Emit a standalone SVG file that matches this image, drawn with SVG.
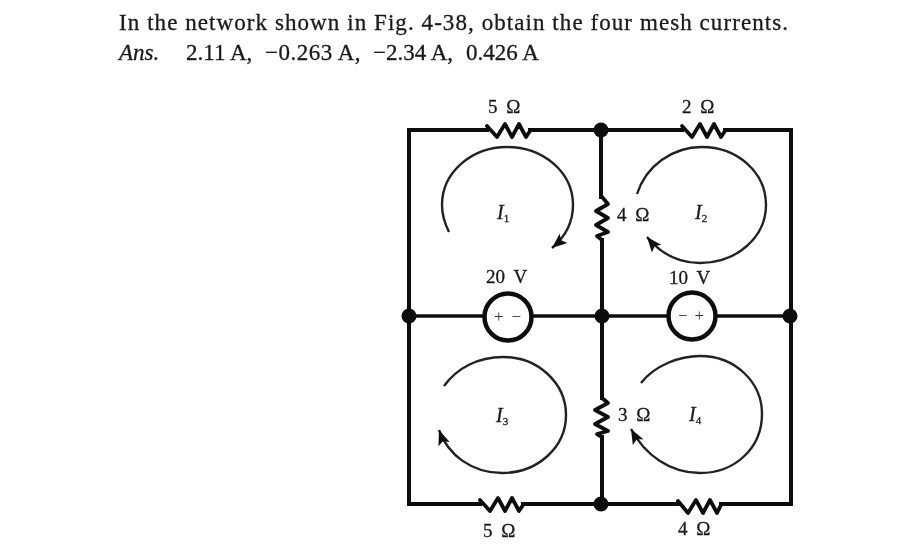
<svg xmlns="http://www.w3.org/2000/svg" width="898" height="556" viewBox="0 0 898 556">
<style>
text{font-family:"Liberation Serif","Times New Roman",serif;fill:#1a1a1a;stroke:#1a1a1a;stroke-width:.3}
.head{font-size:23px}
.lab{font-size:19px;word-spacing:4px}
.cur{font-size:20px;font-style:italic}
.sub{font-size:11px;font-style:normal}
.sgn{font-size:17px;fill:#333;stroke:none}
.wire{fill:none;stroke:#111;stroke-width:4;stroke-linecap:square;stroke-linejoin:miter}
.thin{stroke-width:3.4}
.res{fill:none;stroke:#111;stroke-width:3.8;stroke-linejoin:round;stroke-linecap:round}
.loop{fill:none;stroke:#222;stroke-width:2.4;marker-end:url(#arr)}
.dot{fill:#111}
.src{fill:#fff;stroke:#111;stroke-width:4.5}
</style>
<defs>
<filter id="soft" x="-2%" y="-2%" width="104%" height="104%"><feGaussianBlur stdDeviation="0.65"/></filter>
<marker id="arr" markerUnits="userSpaceOnUse" markerWidth="20" markerHeight="16" refX="15" refY="7" orient="auto"><path d="M0 1 L15 7 L0 13 L3 7 Z" fill="#111"/></marker>
</defs>
<rect width="898" height="556" fill="#fff"/>
<g filter="url(#soft)">
<g id="statement">
<text class="head" x="119" y="30" textLength="669">In the network shown in Fig. 4-38, obtain the four mesh currents.</text>
<text class="head" y="59.5"><tspan x="119" font-style="italic">Ans.</tspan><tspan x="186">2.11 A,</tspan><tspan x="265" letter-spacing=".5">−0.263 A,</tspan><tspan x="373">−2.34 A,</tspan><tspan x="466">0.426 A</tspan></text>
</g>
<g id="connectors">
<path class="wire" d="M487 130H409V504H480M523 504H678M721 504H791V130H725M682 130H530"/>
<path class="wire" d="M601 130V197M602 240V398M602 437V504"/>
<path class="wire thin" d="M409 316H484M532 316H668M716 316H791"/>
</g>
<g id="r-top-left"><polyline class="res" points="487,126 497,137 505,124 512,137 519,124 526,137 530,131"/><text class="lab" x="488" y="113">5 Ω</text></g>
<g id="r-top-right"><polyline class="res" points="682,126 692,137 700,124 707,137 714,124 721,137 725,131"/><text class="lab" x="682" y="113">2 Ω</text></g>
<g id="r-mid-upper"><polyline class="res" points="602,197 608,204 596,211 608,218 596,225 608,232 597,236 602,240"/><text class="lab" x="617" y="221">4 Ω</text></g>
<g id="r-mid-lower"><polyline class="res" points="602,398 608,403 595,410 608,417 595,424 608,431 597,434 602,437"/><text class="lab" x="618" y="421">3 Ω</text></g>
<g id="r-bottom-left"><polyline class="res" points="480,500 490,511 498,498 505,511 512,498 519,511 523,505"/><text class="lab" x="483" y="537">5 Ω</text></g>
<g id="r-bottom-right"><polyline class="res" points="678,501 688,513 696,500 703,513 710,500 717,513 721,505"/><text class="lab" x="678" y="535">4 Ω</text></g>
<g id="source-20v"><circle class="src" cx="508" cy="317" r="23.5"/><text class="sgn" x="494" y="322">+</text><text class="sgn" x="511.5" y="322">−</text><text class="lab" x="486" y="283">20 V</text></g>
<g id="source-10v"><circle class="src" cx="692" cy="316" r="23.5"/><text class="sgn" x="678" y="321">−</text><text class="sgn" x="694.5" y="321">+</text><text class="lab" x="669" y="284">10 V</text></g>
<g id="mesh-1"><path class="loop" d="M449 232C444 222 442 214 442 205C442 172 472 147 507 147C543 147 573 172 573 205C573 222 565 237 552 248"/><text class="cur" x="497" y="219">I<tspan class="sub" dy="3">1</tspan></text></g>
<g id="mesh-2"><path class="loop" d="M637 194C646 166 672 147 702 147C737 147 766 172 766 205C766 237 737 263 700 263C680 263 661 254 647 237"/><text class="cur" x="695" y="219">I<tspan class="sub" dy="3">2</tspan></text></g>
<g id="mesh-3"><path class="loop" d="M444 386C457 368 478 357 503 357C538 357 566 383 566 415C566 447 538 473 502 473C472 473 448 455 439 430"/><text class="cur" x="496" y="422">I<tspan class="sub" dy="3">3</tspan></text></g>
<g id="mesh-4"><path class="loop" d="M641 383C655 365 680 356 700 356C735 356 762 382 762 414C762 448 735 473 700 473C670 473 645 455 631 429"/><text class="cur" x="689" y="421">I<tspan class="sub" dy="3">4</tspan></text></g>
<g id="junctions">
<circle class="dot" cx="601" cy="130" r="7.5"/>
<circle class="dot" cx="409" cy="316" r="7.5"/>
<circle class="dot" cx="602" cy="316" r="7.5"/>
<circle class="dot" cx="790" cy="316" r="7.5"/>
<circle class="dot" cx="601" cy="504" r="7.5"/>
</g>
</g>
</svg>
